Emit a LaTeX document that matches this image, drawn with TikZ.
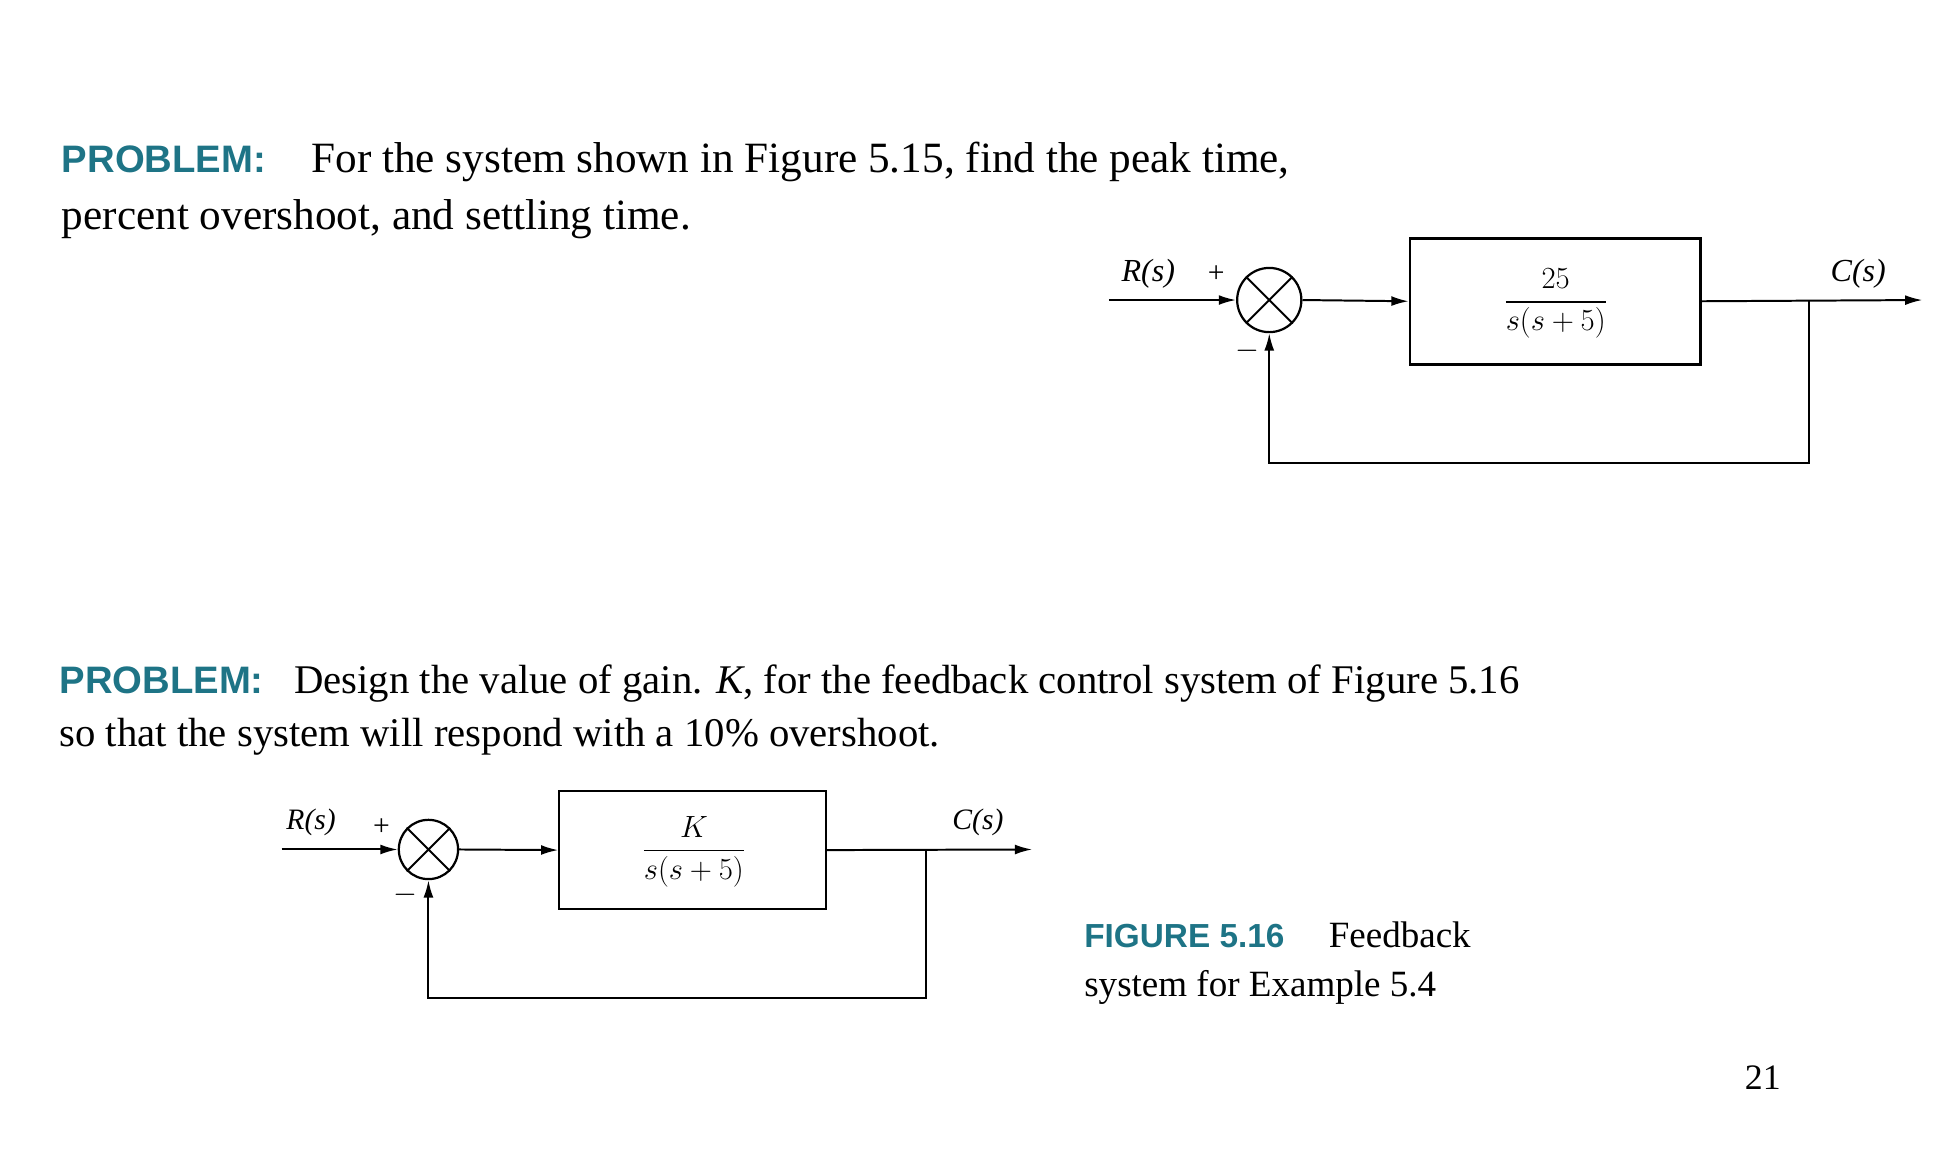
\documentclass[tikz,border=0pt]{standalone}
\usepackage{amsmath}
\usepackage{fontspec}
\setmainfont{Liberation Serif}
\newfontfamily\headfont{Liberation Sans}
\usetikzlibrary{arrows.meta}
\definecolor{teal1}{HTML}{1E7486}
\begin{document}
\begin{tikzpicture}[x=1pt,y=-1pt,
  wire/.style={line width=1.6pt},
  arr/.style={wire,-{Latex[length=14pt,width=8pt]}},
  sumj/.style={circle,draw,line width=1.8pt,inner sep=0pt},
  blk/.style={draw,line width=2.2pt,inner sep=0pt},
  lbl/.style={font=\fontsize{26}{30}\selectfont\itshape,inner sep=0pt},
  sg/.style={font=\fontsize{24}{28}\selectfont,inner sep=0pt},
  body/.style={font=\fontsize{35}{40}\selectfont,anchor=base west,inner sep=0pt},
  head/.style={font=\fontsize{31}{36}\selectfont\headfont\bfseries,text=teal1,anchor=base west,inner sep=0pt}]
\useasboundingbox (0,0) rectangle (1568,952);
% Problem 1
\node[head] (h1) at (50,140) {PROBLEM:};
\node[body] (t1) at (252,140) {For the system shown in Figure 5.15, find the peak time,};
\node[body] (t1b) at (50,186) {percent overshoot, and settling time.};
% diagram 1
\node[sumj,minimum size=52pt] (s1) at (1028,243) {};
\draw[line width=1.6pt] (s1.north west)--(s1.south east) (s1.north east)--(s1.south west);
\node[blk,minimum width=235pt,minimum height=102pt] (b1) at (1259.5,244) {};
\node[inner sep=0pt,font=\fontsize{28}{32}\selectfont] (f1) at (1260,246) {$\dfrac{25}{s(s+5)}$};
\coordinate (in1) at (898,243);
\coordinate (out1) at (1557,243);
\coordinate (br1) at (1465,243);
\draw[arr] (in1)--(s1.west);
\draw[arr] (s1.east)--(b1.west);
\draw[arr] (b1.east)--(out1);
\draw[arr] (br1)--(1465,375)-|(s1.south);
\node[lbl] (r1) at (930,222) {R(s)};
\node[sg] (p1) at (985,222) {+};
\node[sg] (m1) at (1010,284) {$-$};
\node[lbl] (c1) at (1505,222) {C(s)};
% Problem 2
\node[head] (h2) at (48,562) {PROBLEM:};
\node[body,font=\fontsize{33}{38}\selectfont] (t2) at (238,562) {Design the value of gain. \textit{K}, for the feedback control system of Figure 5.16};
\node[body,font=\fontsize{33}{38}\selectfont] (t2b) at (48,605) {so that the system will respond with a 10\% overshoot.};
% diagram 2
\node[sumj,minimum size=48pt] (s2) at (347,688) {};
\draw[line width=1.6pt] (s2.north west)--(s2.south east) (s2.north east)--(s2.south west);
\node[blk,line width=1.6pt,minimum width=216pt,minimum height=95pt] (b2) at (561,688.5) {};
\node[inner sep=0pt,font=\fontsize{25}{30}\selectfont] (f2) at (562,690) {$\dfrac{K}{s(s+5)}$};
\coordinate (in2) at (228,688);
\coordinate (out2) at (836,688);
\coordinate (br2) at (750,688);
\draw[arr] (in2)--(s2.west);
\draw[arr] (s2.east)--(b2.west);
\draw[arr] (b2.east)--(out2);
\draw[arr] (br2)--(750,808)-|(s2.south);
\node[lbl,font=\fontsize{24}{28}\selectfont\itshape] (r2) at (252,666) {R(s)};
\node[sg] (p2) at (309,670) {+};
\node[sg] (m2) at (328,725) {$-$};
\node[lbl,font=\fontsize{24}{28}\selectfont\itshape] (c2) at (792,666) {C(s)};
\node[head,font=\fontsize{27}{32}\selectfont\headfont\bfseries] (cap1) at (878,767) {FIGURE 5.16};
\node[body,font=\fontsize{30}{36}\selectfont] (cap2) at (1076,767) {Feedback};
\node[body,font=\fontsize{30}{36}\selectfont] (cap3) at (878,807) {system for Example 5.4};
\node[body,font=\fontsize{29}{34}\selectfont] (pg) at (1413,882) {21};
\end{tikzpicture}
\end{document}
